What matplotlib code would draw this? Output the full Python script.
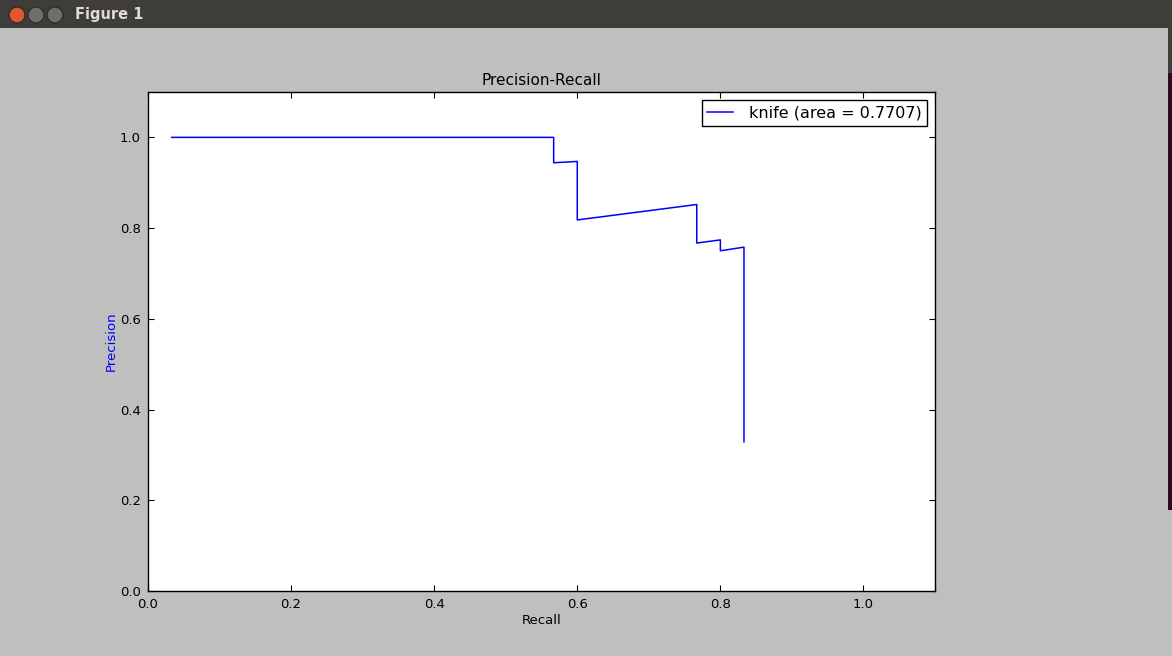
import matplotlib
matplotlib.use('Agg')
import matplotlib.pyplot as plt
from matplotlib.patches import Rectangle, Circle

# Данные кривой precision-recall
recall = [0.033, 0.567, 0.567, 0.600, 0.600, 0.767, 0.767, 0.800, 0.800, 0.833, 0.833]
precision = [1.000, 1.000, 0.944, 0.947, 0.818, 0.852, 0.767, 0.774, 0.750, 0.758, 0.329]
label = 'knife (area = 0.7707)'
x_ticks = [0.0, 0.2, 0.4, 0.6, 0.8, 1.0]
y_ticks = [0.0, 0.2, 0.4, 0.6, 0.8, 1.0]

W, H = 1172, 656
fig = plt.figure(figsize=(W / 100, H / 100), dpi=100, facecolor='#bfbfbf')

# Заголовок окна
fig.patches.append(Rectangle((0, 1 - 28 / H), 1168 / W, 28 / H, transform=fig.transFigure,
                             facecolor='#3e3d39', edgecolor='none', zorder=0))
for i, c in enumerate(['#e4562d', '#6f6e69', '#6f6e69']):
    fig.patches.append(Circle((17 + i * 19, H - 15), 8, transform=None,
                              facecolor=c, edgecolor='#2e2d2a', zorder=1))
fig.text(75 / W, 1 - 15 / H, 'Figure 1', color='#dfdbd2', fontsize=10.5,
         fontweight='bold', va='center', ha='left')
# Полоска терминала справа
fig.patches.append(Rectangle((1168 / W, 1 - 510 / H), 4 / W, 437 / H, transform=fig.transFigure,
                             facecolor='#2c0a22', edgecolor='none', zorder=0))
fig.patches.append(Rectangle((1168 / W, 1 - 73 / H), 4 / W, 73 / H, transform=fig.transFigure,
                             facecolor='#3e3d39', edgecolor='none', zorder=0))

ax = fig.add_axes([148 / W, 65 / H, 787 / W, 499 / H])
ax.set_facecolor('white')
ax.plot(recall, precision, color='b', lw=1.1, label=label)

ax.set_xlim(0, 1.1)
ax.set_ylim(0, 1.1)
ax.set_xticks(x_ticks)
ax.set_yticks(y_ticks)
ax.tick_params(direction='in', top=True, right=True, length=4, labelsize=9.5, pad=5)
for s in ax.spines.values():
    s.set_linewidth(1.0)

ax.set_xlabel('Recall', fontsize=9.5, labelpad=2)
ax.set_ylabel('Precision', fontsize=9.5, color='blue', labelpad=2)
ax.set_title('Precision-Recall', fontsize=11, pad=5)

leg = ax.legend(loc='upper right', fontsize=11.5, fancybox=False, framealpha=1,
                edgecolor='black', handlelength=1.6, borderpad=0.35, handletextpad=1.0,
                borderaxespad=0.5)
leg.get_frame().set_linewidth(1.0)

plt.savefig('out.png', dpi=100, facecolor=fig.get_facecolor())
